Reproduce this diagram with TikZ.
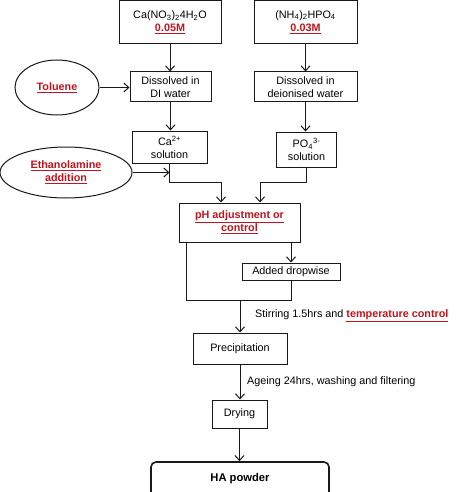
\documentclass[tikz,border=0pt]{standalone}
\usepackage{fontspec}
\setmainfont{Liberation Sans}
\usetikzlibrary{arrows.meta,shapes.geometric}
\definecolor{myred}{RGB}{192,20,30}
\definecolor{lc}{RGB}{25,25,25}
\newcommand\rd[1]{\textcolor{myred}{\bfseries\underline{#1}}}
\tikzset{
  box/.style={draw=lc,line width=1pt,rectangle,inner sep=0pt,align=center,font=\fontsize{10.8}{13}\selectfont},
  ell/.style={draw=lc,line width=1pt,ellipse,inner sep=0pt,align=center,font=\fontsize{10.8}{13}\selectfont},
  arr/.style={draw=lc,line width=1pt,-{Straight Barb[length=5pt,width=9pt,line width=1pt]}},
  ln/.style={draw=lc,line width=1pt},
  lbl/.style={anchor=west,inner sep=0pt,font=\fontsize{10.8}{13}\selectfont}
}
\begin{document}
\begin{tikzpicture}[x=1pt,y=-1pt]
\useasboundingbox[fill=white] (0,0) rectangle (474,492);
\node[box,minimum width=102pt,minimum height=43pt] (b1) at (170,22.5) {Ca(NO\textsubscript{3})\textsubscript{2}4H\textsubscript{2}O\\\rd{0.05M}};
\node[box,minimum width=103pt,minimum height=43pt] (b2) at (305.5,22) {(NH\textsubscript{4})\textsubscript{2}HPO\textsubscript{4}\\\rd{0.03M}};
\node[box,minimum width=81pt,minimum height=30pt] (d1) at (170.5,87) {Dissolved in\\DI water};
\node[box,minimum width=103pt,minimum height=30pt] (d2) at (305.5,87) {Dissolved in\\deionised water};
\node[box,minimum width=75pt,minimum height=32pt] (ca) at (169.5,147) {Ca\textsuperscript{2+}\\solution};
\node[box,minimum width=60pt,minimum height=35pt] (po) at (306.5,149.5) {PO\textsubscript{4}\textsuperscript{3-}\\solution};
\node[ell,minimum width=84pt,minimum height=55pt] (tol) at (57,87.5) {\rd{Toluene}};
\node[ell,minimum width=132pt,minimum height=51pt] (eth) at (66,172.5) {\rd{Ethanolamine}\\\rd{addition}};
\node[box,minimum width=121pt,minimum height=39pt] (ph) at (239.5,222.5) {\rd{pH adjustment or}\\\rd{control}};
\node[box,minimum width=98pt,minimum height=17pt] (drop) at (291,271.5) {Added dropwise};
\node[box,minimum width=94pt,minimum height=31pt] (prec) at (240,348.5) {Precipitation};
\node[box,minimum width=55pt,minimum height=28pt] (dry) at (239.5,414) {Drying};
\node[box,line width=1.6pt,rounded corners=5pt,minimum width=178pt,minimum height=36pt,font=\fontsize{11.2}{13}\selectfont\bfseries] (ha) at (240,480) {\raisebox{5pt}{HA powder}};
\node[lbl] (stir) at (255,316) {Stirring 1.5hrs and \rd{temperature control}};
\node[lbl] (age) at (247,382) {Ageing 24hrs, washing and filtering};
% connectors
\draw[arr] (b1.south) -- (d1.north -| b1.south);
\draw[arr] (b2.south) -- (d2.north -| b2.south);
\draw[arr] (d1.south) -- (ca.north -| d1.south);
\draw[arr] (d2.south) -- (po.north -| d2.south);
\draw[arr] (tol.east) -- (d1.west |- tol.east);
\coordinate (j1) at (221,182);
\coordinate (j2) at (260,182);
\draw[arr] (ca.south) |- (j1) -- (j1 |- ph.north);
\draw[arr] (po.south) |- (j2) -- (j2 |- ph.north);
\draw[arr] (eth.east) -- (ca.south |- eth.east);
\coordinate (j3) at (186,300);
\coordinate (j4) at (240,300);
\draw[ln] (j3 |- ph.south) -- (j3) -| (drop.south);
\draw[arr] (drop.north |- ph.south) -- (drop.north);
\draw[arr] (j4) -- (prec.north);
\draw[arr] (prec.south) -- (dry.north -| prec.south);
\draw[arr] (dry.south) -- (ha.north -| dry.south);
\end{tikzpicture}
\end{document}
